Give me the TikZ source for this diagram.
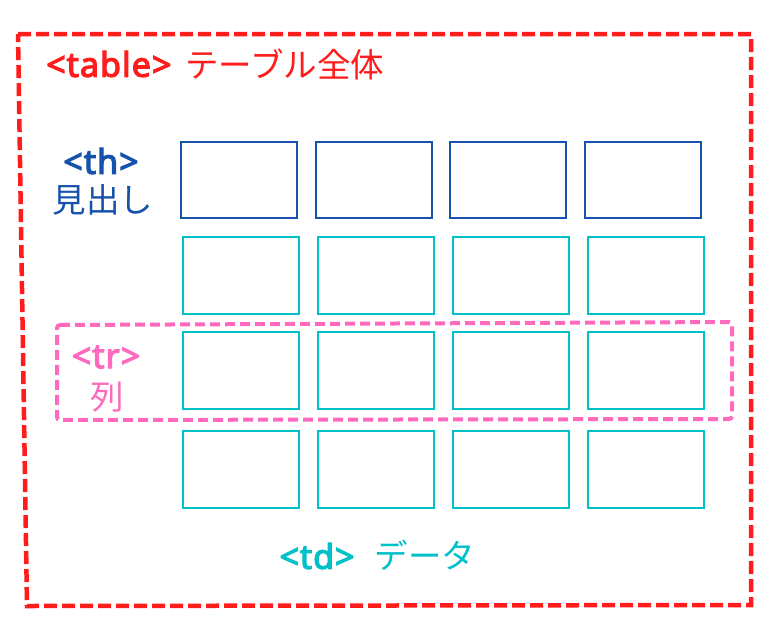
\documentclass[tikz,border=0pt]{standalone}
\usepackage{fontspec}
\setmainfont{Noto Sans}
\newfontfamily\tagfont{Noto Sans}[FakeBold=3.5,LetterSpace=3]
\newfontfamily\jp{Noto Sans CJK JP}
\definecolor{tred}{RGB}{255,28,28}
\definecolor{tblue}{RGB}{22,82,172}
\definecolor{tcyan}{RGB}{0,192,200}
\definecolor{tpink}{RGB}{255,105,190}
\tikzset{
  hbox/.style={draw=tblue,line width=2.8pt},
  dbox/.style={draw=tcyan,line width=2.8pt},
  tag/.style={font=\tagfont\fontsize{34}{34}\selectfont,inner sep=0pt},
  jlab/.style={font=\jp\fontsize{33.5}{33.5}\selectfont,inner sep=0pt},
}
\begin{document}
\begin{tikzpicture}[x=1pt,y=-1pt]
\useasboundingbox (0,0) rectangle (768,627);
\fill[white] (0,0) rectangle (768,627);
% outer table frame
\draw[tred,line width=4.5pt,dash pattern=on 13pt off 5pt]
  (18,34) -- (751,34) -- (751,605) -- (27,606) -- cycle;
% header cells
\foreach \x [count=\i] in {181,316,450,585}{
  \draw[hbox] (\x,142) rectangle ++(116,76);
}
% data cells
\foreach \y [count=\j] in {237,332,431}{
  \foreach \x [count=\i] in {183,318,453,588}{
    \draw[dbox] (\x,\y) rectangle ++(116,77);
  }
}
% row frame
\draw[tpink,line width=4pt,dash pattern=on 10pt off 5pt,rounded corners=3pt]
  (57,325) -- (732,322) -- (732,419) -- (57,420) -- cycle;
% labels
\node[tag,text=tred,anchor=west] (tablet) at (46,64) {<table>};
\node[jlab,text=tred,anchor=west] (tablej) at (185,64) {テーブル全体};
\node[tag,text=tblue] (tht) at (101,161) {<th>};
\node[jlab,text=tblue] (thj) at (103,200) {見出し};
\node[tag,text=tpink] (trt) at (106,357) {<tr>};
\node[jlab,text=tpink] (trj) at (107,397) {列};
\node[tag,text=tcyan] (tdt) at (317,556) {<td>};
\node[jlab,text=tcyan] (tdj) at (425,555) {データ};
\end{tikzpicture}
\end{document}
